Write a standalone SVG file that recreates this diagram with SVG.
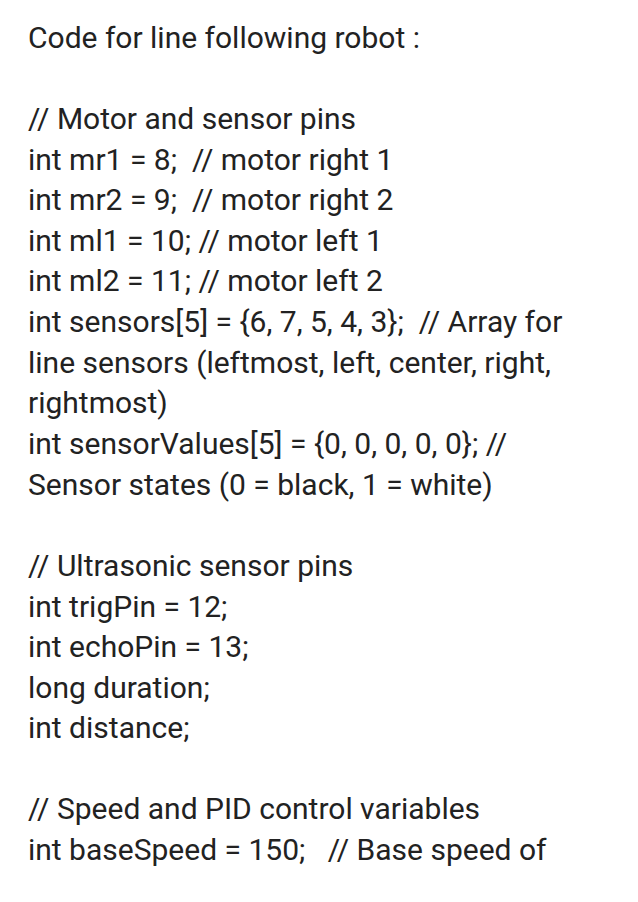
<svg xmlns="http://www.w3.org/2000/svg" width="638" height="902" viewBox="0 0 638 902">
<style>text{font-family:Roboto,"Noto Sans",sans-serif;font-size:30px;fill:#222;white-space:pre}</style>
<rect width="638" height="902" fill="#fff"/>
<g xml:space="preserve">
<text x="28" y="48">Code for line following robot :</text>
<text x="28" y="129">// Motor and sensor pins</text>
<text x="28" y="170">int mr1 = 8;  // motor right 1</text>
<text x="28" y="210">int mr2 = 9;  // motor right 2</text>
<text x="28" y="251">int ml1 = 10; // motor left 1</text>
<text x="28" y="291">int ml2 = 11; // motor left 2</text>
<text x="28" y="332">int sensors[5] = {6, 7, 5, 4, 3};  // Array for</text>
<text x="28" y="373">line sensors (leftmost, left, center, right,</text>
<text x="28" y="413">rightmost)</text>
<text x="28" y="454">int sensorValues[5] = {0, 0, 0, 0, 0}; //</text>
<text x="28" y="495">Sensor states (0 = black, 1 = white)</text>
<text x="28" y="576">// Ultrasonic sensor pins</text>
<text x="28" y="617">int trigPin = 12;</text>
<text x="28" y="657">int echoPin = 13;</text>
<text x="28" y="698">long duration;</text>
<text x="28" y="738">int distance;</text>
<text x="28" y="819">// Speed and PID control variables</text>
<text x="28" y="860">int baseSpeed = 150;   // Base speed of</text>
</g>
</svg>
